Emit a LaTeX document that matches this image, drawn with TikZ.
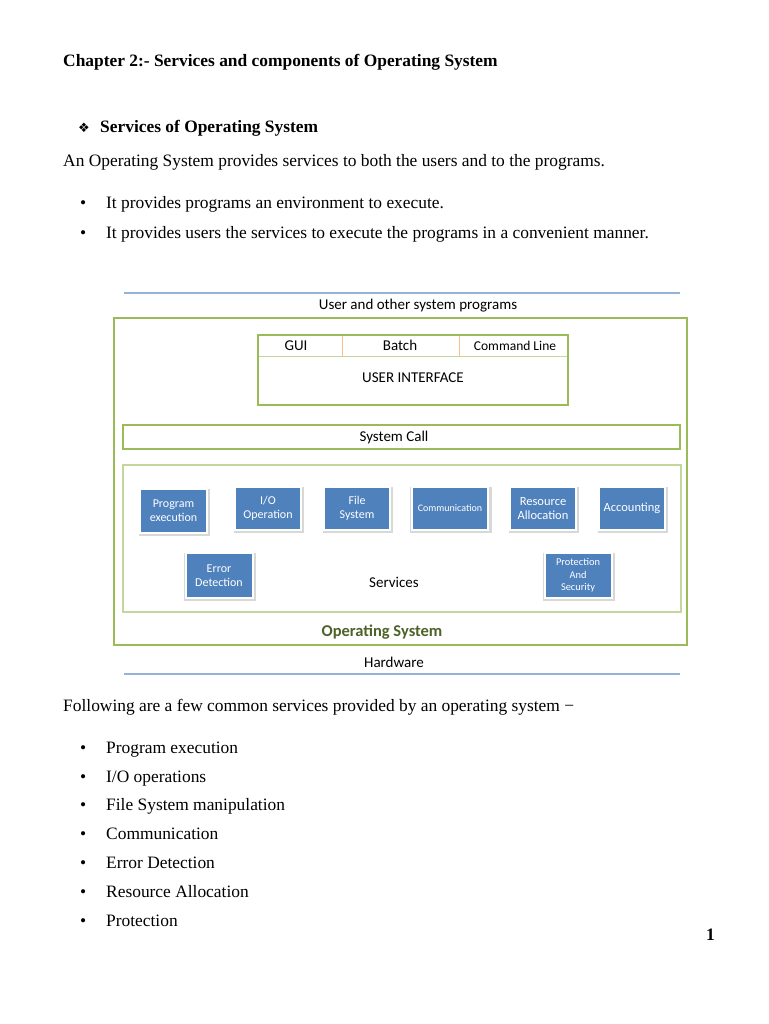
\documentclass[tikz,border=0pt]{standalone}
\usepackage{fontspec}
\setmainfont{Liberation Serif}
\newfontfamily\calfont{Carlito}
\newfontfamily\dvfont{DejaVu Sans}
\usetikzlibrary{shadows}
\definecolor{ogreen}{HTML}{9BBB59}
\definecolor{lgreen}{HTML}{C3D69B}
\definecolor{sblue}{HTML}{4F81BD}
\definecolor{lblue}{HTML}{95B3D7}
\definecolor{orng}{HTML}{FAC090}
\definecolor{olive}{HTML}{4F6228}
\begin{document}
\begin{tikzpicture}[x=1pt,y=-1pt,
  body/.style={anchor=base west, inner sep=0, font=\fontsize{17.4}{20}\selectfont},
  bodyb/.style={body, font=\bfseries\fontsize{17.4}{20}\selectfont},
  dtext/.style={inner sep=0, yshift=-2.2pt, text height=1.5ex, text depth=0.3ex, font=\calfont\fontsize{15}{17}\selectfont},
  gbox/.style={draw=ogreen, line width=2pt},
  svc/.style={fill=sblue, draw=white, line width=2pt, text=white, align=center,
    inner sep=0, font=\calfont\fontsize{12}{14}\selectfont,
    general shadow={shadow scale=1.07, shadow xshift=1pt, shadow yshift=-1.2pt, opacity=0.3, fill=gray}},
  blueline/.style={draw=lblue, line width=1.5pt}]
\useasboundingbox[fill=white] (0,0) rectangle (768,1024);

% heading text
\node[bodyb] (title) at (63,67) {Chapter 2:- Services and components of Operating System};
\node[anchor=base west, inner sep=0, font=\dvfont\fontsize{13}{15}\selectfont] (diam) at (78,133) {❖};
\node[bodyb] (sub) at (100,133) {Services of Operating System};
\node[body] (intro) at (63,167) {An Operating System provides services to both the users and to the programs.};
\node[body] (b1d) at (80,209) {•};
\node[body] (b1) at (106,209) {It provides programs an environment to execute.};
\node[body] (b2d) at (80,238) {•};
\node[body] (b2) at (106,238) {It provides users the services to execute the programs in a convenient manner.};

% diagram
\coordinate (tl1) at (124,293);
\coordinate (tl2) at (680,293);
\draw[blueline] (tl1) -- (tl2);
\node[dtext] (userprog) at (418,305) {User and other system programs};

\draw[gbox, line width=2.5pt] (114,318) rectangle (687,645);

% user interface
\draw[draw=lgreen, line width=0.8pt] (258,356) -- (568,356);
\draw[draw=orng, line width=1pt] (342,335) -- (342,356);
\draw[draw=orng, line width=1pt] (459,335) -- (459,356);
\draw[gbox] (258,335) rectangle (568,405);
\node[dtext] (gui) at (296,346) {GUI};
\node[dtext] (batch) at (400,346) {Batch};
\node[dtext, font=\calfont\fontsize{13.5}{15}\selectfont] (cmd) at (515,346) {Command Line};
\node[dtext] (ui) at (413,378) {USER INTERFACE};

% system call
\draw[gbox] (123,425) rectangle (680,449);
\node[dtext] (syscall) at (394,437) {System Call};

% services
\draw[draw=lgreen, line width=1.5pt] (123,465) rectangle (681,612);
\node[svc, minimum width=67, minimum height=44] (prog) at (173.5,511) {Program\\execution};
\node[svc, minimum width=66, minimum height=43] (io) at (268,508.5) {I/O\\Operation};
\node[svc, minimum width=66, minimum height=43] (file) at (357,508.5) {File\\System};
\node[svc, minimum width=76, minimum height=43, font=\calfont\fontsize{10}{12}\selectfont] (comm) at (450,508.5) {Communication};
\node[svc, minimum width=66, minimum height=43, font=\calfont\fontsize{12.5}{14}\selectfont] (res) at (543,508.5) {Resource\\Allocation};
\node[svc, minimum width=66, minimum height=43, font=\calfont\fontsize{12.5}{14}\selectfont] (acc) at (632,508.5) {Accounting};
\node[svc, minimum width=67, minimum height=45] (err) at (219,575.5) {Error\\Detection};
\node[svc, minimum width=67, minimum height=45, font=\calfont\fontsize{10.4}{12.5}\selectfont] (prot) at (578,575.5) {Protection\\And\\Security};
\node[dtext] (services) at (394,583) {Services};
\node[dtext, font=\calfont\bfseries\fontsize{16.5}{18}\selectfont, text=olive] (os) at (382,632) {Operating System};
\node[dtext] (hw) at (394,663) {Hardware};
\coordinate (bl1) at (124,674);
\coordinate (bl2) at (680,674);
\draw[blueline] (bl1) -- (bl2);

% list
\node[body] (follow) at (63,711) {Following are a few common services provided by an operating system −};
\foreach \y/\t [count=\i] in {753/{Program execution}, 782/{I/O operations}, 810/{File System manipulation},
  839/{Communication}, 868/{Error Detection}, 897/{Resource Allocation}, 926/{Protection}}{
  \node[body] (ld\i) at (80,\y) {•};
  \node[body] (li\i) at (106,\y) {\t};
}
\node[bodyb] (pnum) at (706,940) {1};
\end{tikzpicture}
\end{document}
